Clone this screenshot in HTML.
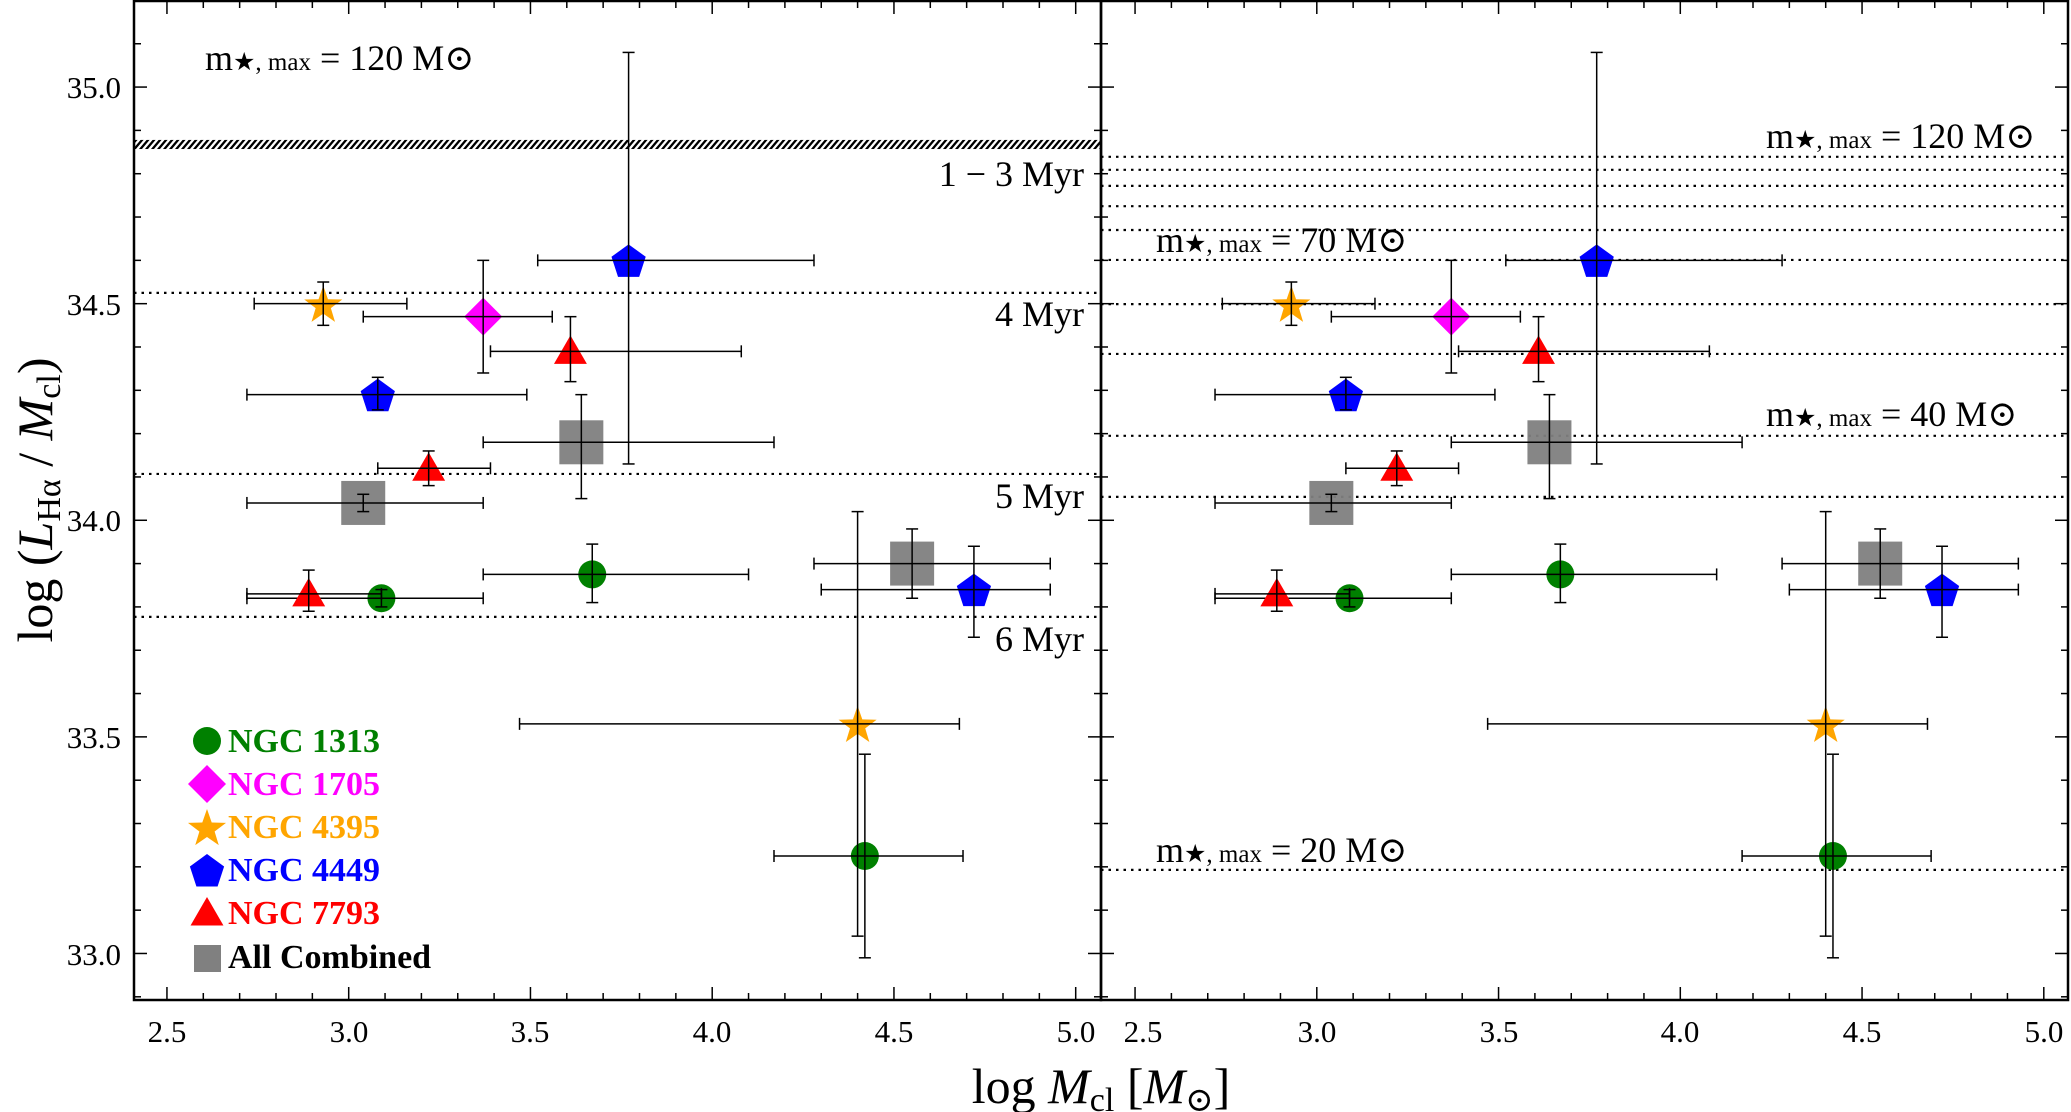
<!DOCTYPE html>
<html><head><meta charset="utf-8"><style>
html,body{margin:0;padding:0;background:#fff;}
svg{display:block;font-family:"Liberation Serif","DejaVu Serif",serif;}
</style></head><body>
<svg id="s" width="2071" height="1112" viewBox="0 0 2071 1112" xmlns="http://www.w3.org/2000/svg">
<defs>
<pattern id="hatch" width="6" height="10" patternUnits="userSpaceOnUse" patternTransform="skewX(-40)">
<rect x="0" y="0" width="3" height="10" fill="#000"/>
</pattern>
</defs>
<g id="g"></g>
<g font-size="31" fill="#000">
<text x="121" y="98" text-anchor="end">35.0</text>
<text x="121" y="315" text-anchor="end">34.5</text>
<text x="121" y="531" text-anchor="end">34.0</text>
<text x="121" y="748" text-anchor="end">33.5</text>
<text x="121" y="965" text-anchor="end">33.0</text>
<text x="167" y="1042" text-anchor="middle">2.5</text>
<text x="349" y="1042" text-anchor="middle">3.0</text>
<text x="530" y="1042" text-anchor="middle">3.5</text>
<text x="712" y="1042" text-anchor="middle">4.0</text>
<text x="894" y="1042" text-anchor="middle">4.5</text>
<text x="1076" y="1042" text-anchor="middle">5.0</text>
<text x="1143" y="1042" text-anchor="middle">2.5</text>
<text x="1317" y="1042" text-anchor="middle">3.0</text>
<text x="1499" y="1042" text-anchor="middle">3.5</text>
<text x="1680" y="1042" text-anchor="middle">4.0</text>
<text x="1862" y="1042" text-anchor="middle">4.5</text>
<text x="2044" y="1042" text-anchor="middle">5.0</text>
</g>
<g font-size="36" fill="#000">
<text x="205" y="70">m<tspan font-size="25">★, max</tspan> = 120 M⊙</text>
<text x="1084" y="186" text-anchor="end">1 − 3 Myr</text>
<text x="1084" y="326" text-anchor="end">4 Myr</text>
<text x="1084" y="508" text-anchor="end">5 Myr</text>
<text x="1084" y="651" text-anchor="end">6 Myr</text>
<text x="1766" y="148">m<tspan font-size="25">★, max</tspan> = 120 M⊙</text>
<text x="1156" y="252">m<tspan font-size="25">★, max</tspan> = 70 M⊙</text>
<text x="1766" y="426">m<tspan font-size="25">★, max</tspan> = 40 M⊙</text>
<text x="1156" y="862">m<tspan font-size="25">★, max</tspan> = 20 M⊙</text>
</g>
<g font-size="34" font-weight="bold">
<text x="228" y="752" fill="#008000">NGC 1313</text>
<text x="228" y="795" fill="#ff00ff">NGC 1705</text>
<text x="228" y="838" fill="#ffa500">NGC 4395</text>
<text x="228" y="881" fill="#0000ff">NGC 4449</text>
<text x="228" y="924" fill="#ff0000">NGC 7793</text>
<text x="228" y="968" fill="#000">All Combined</text>
</g>
<text x="1101" y="1103" font-size="50" text-anchor="middle">log <tspan font-style="italic">M</tspan><tspan font-size="34" dy="8">cl</tspan><tspan dy="-8"> [</tspan><tspan font-style="italic">M</tspan><tspan font-size="34" dy="8">⊙</tspan><tspan dy="-8">]</tspan></text>
<text transform="translate(52,500) rotate(-90)" font-size="50" text-anchor="middle">log (<tspan font-style="italic">L</tspan><tspan font-size="34" dy="8">Hα</tspan><tspan dy="-8"> / </tspan><tspan font-style="italic">M</tspan><tspan font-size="34" dy="8">cl</tspan><tspan dy="-8">)</tspan></text>
</svg>
<script>
var NS="http://www.w3.org/2000/svg",g=document.getElementById('g');
function el(t,a){var e=document.createElementNS(NS,t);for(var k in a)e.setAttribute(k,a[k]);g.appendChild(e);return e;}
var K=363.5;
function X(p,v){return (p?1316.8:348.7)+(v-3)*K;}
function Y(v){return (35.201-v)*433.2;}
var B=1000,L0=134,M0=1101,R0=2068;
el('rect',{x:L0,y:Y(34.878),width:M0-L0,height:Y(34.857)-Y(34.878),fill:'url(#hatch)'});
[34.525,34.107,33.777].forEach(function(v){var y=Y(v);el('line',{x1:L0,x2:M0,y1:y,y2:y,stroke:'#000','stroke-width':2.2,'stroke-dasharray':'2.5 5'});});
[34.839,34.809,34.772,34.725,34.670,34.601,34.499,34.384,34.195,34.054,33.193].forEach(function(v){var y=Y(v);el('line',{x1:M0,x2:R0,y1:y,y2:y,stroke:'#000','stroke-width':2.2,'stroke-dasharray':'2.5 5'});});
[0,1].forEach(function(p){
 var x0=p?M0:L0,x1=p?R0:M0;
 el('rect',{x:x0,y:1,width:x1-x0,height:B-1,fill:'none',stroke:'#000','stroke-width':2.5});
 for(var i=25;i<=50;i++){var v=i/10,x=X(p,v),L=(i%5==0)?13:7;
  el('line',{x1:x,x2:x,y1:B,y2:B-L,stroke:'#000','stroke-width':1.5});
  el('line',{x1:x,x2:x,y1:1,y2:1+L,stroke:'#000','stroke-width':1.5});}
 for(var j=329;j<=352;j++){var y=Y(j/10),L=(j%5==0)?13:7;
  el('line',{x1:x0,x2:x0+L,y1:y,y2:y,stroke:'#000','stroke-width':1.5});
  el('line',{x1:x1,x2:x1-L,y1:y,y2:y,stroke:'#000','stroke-width':1.5});}
});
var D=[
['sq',3.04,34.04,2.72,3.37,34.02,34.06],
['sq',3.64,34.18,3.37,4.17,34.05,34.29],
['sq',4.55,33.90,4.28,4.93,33.82,33.98],
['ci',3.09,33.82,2.72,3.37,33.80,33.84],
['ci',3.67,33.875,3.37,4.10,33.81,33.945],
['ci',4.42,33.225,4.17,4.69,32.99,33.46],
['di',3.37,34.47,3.04,3.56,34.34,34.60],
['st',2.93,34.50,2.74,3.16,34.45,34.55],
['st',4.40,33.53,3.47,4.68,33.04,34.02],
['pe',3.77,34.60,3.52,4.28,34.13,35.08],
['pe',3.08,34.29,2.72,3.49,34.255,34.33],
['pe',4.72,33.84,4.30,4.93,33.73,33.94],
['tr',3.61,34.39,3.39,4.08,34.32,34.47],
['tr',3.22,34.12,3.08,3.39,34.08,34.16],
['tr',2.89,33.83,2.72,3.09,33.79,33.885]];
var C={sq:'#808080',ci:'#008000',di:'#ff00ff',st:'#ffa500',pe:'#0000ff',tr:'#ff0000'};
function marker(t,cx,cy){
 var c=C[t];
 if(t=='sq')el('rect',{x:cx-22,y:cy-22,width:44,height:44,fill:c,opacity:0.95});
 else if(t=='ci')el('circle',{cx:cx,cy:cy,r:14,fill:c});
 else if(t=='di')el('polygon',{points:[cx,cy-19,cx+19,cy,cx,cy+19,cx-19,cy].join(' '),fill:c});
 else{var pts=[];
  if(t=='tr'){for(var k=0;k<3;k++){var a=-Math.PI/2+k*2*Math.PI/3;pts.push(cx+19*Math.cos(a),cy+3+19*Math.sin(a));}}
  else if(t=='pe'){for(var k=0;k<5;k++){var a=-Math.PI/2+k*2*Math.PI/5;pts.push(cx+18*Math.cos(a),cy+2+18*Math.sin(a));}}
  else{for(var k=0;k<10;k++){var a=-Math.PI/2+k*Math.PI/5,rr=k%2?8:20;pts.push(cx+rr*Math.cos(a),cy+2+rr*Math.sin(a));}}
  el('polygon',{points:pts.join(' '),fill:c});}
}
[0,1].forEach(function(p){
 D.forEach(function(d){
  var cx=X(p,d[1]),cy=Y(d[2]);
  marker(d[0],cx,cy);
  var xa=X(p,d[3]),xb=X(p,d[4]),ya=Y(d[5]),yb=Y(d[6]);
  var s={stroke:'#000','stroke-width':1.5};
  el('line',Object.assign({x1:xa,x2:xb,y1:cy,y2:cy},s));
  el('line',Object.assign({x1:xa,x2:xa,y1:cy-6,y2:cy+6},s));
  el('line',Object.assign({x1:xb,x2:xb,y1:cy-6,y2:cy+6},s));
  el('line',Object.assign({x1:cx,x2:cx,y1:ya,y2:yb},s));
  el('line',Object.assign({x1:cx-6,x2:cx+6,y1:ya,y2:ya},s));
  el('line',Object.assign({x1:cx-6,x2:cx+6,y1:yb,y2:yb},s));
 });
});
var LY=[743,786,829,872,915,958];
['ci','di','st','pe','tr','sq'].forEach(function(t,i){
 if(t=='sq')el('rect',{x:194,y:LY[i]-13,width:27,height:27,fill:C.sq});
 else marker(t,207,LY[i]-2);
});
</script>
</body></html>
